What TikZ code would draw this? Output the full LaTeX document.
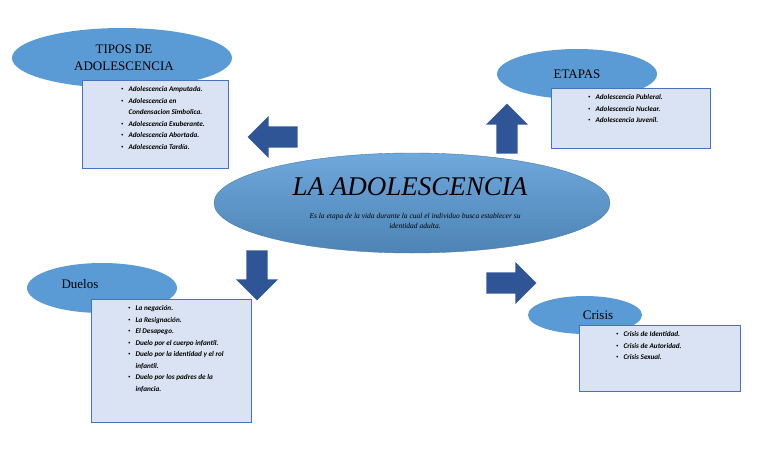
\documentclass[tikz,border=0pt]{standalone}
\usepackage{fontspec}
\setmainfont{Liberation Serif}
\newfontfamily\listfont{Carlito}
\usetikzlibrary{shapes.arrows}
\definecolor{ell}{HTML}{5B9BD5}
\definecolor{ellb}{HTML}{6FA8DC}
\definecolor{boxf}{HTML}{DAE3F3}
\definecolor{boxd}{HTML}{4472C4}
\definecolor{arr}{HTML}{2F5597}
\tikzset{
 ellnode/.style={ellipse,fill=ell,inner sep=0pt},
 listbox/.style={draw=boxd,fill=boxf,line width=0.8pt,anchor=north west,inner sep=0pt},
 bigarrow/.style={single arrow,fill=arr,draw=none,minimum height=50pt,minimum width=42pt,single arrow head extend=6pt,inner sep=6pt},
 ltxt/.style={anchor=north west,align=left,font=\listfont\bfseries\itshape\fontsize{7.2}{11.5}\selectfont},
}
\usetikzlibrary{shapes.geometric}
\begin{document}
\begin{tikzpicture}[x=1pt,y=-1pt]
\useasboundingbox[fill=white] (0,0) rectangle (768,466);
% ellipses
\node[ellnode,minimum width=220pt,minimum height=60pt] (tipos) at (122,58) {};
\node[ellnode,minimum width=160pt,minimum height=50pt] (etapas) at (577,74) {};
\node[ellnode,minimum width=150pt,minimum height=50pt] (duelos) at (102,288) {};
\node[ellnode,minimum width=114pt,minimum height=38pt] (crisis) at (585,315) {};
\node[ellipse,top color=ellb,bottom color=ell!85!black,draw=ell!80!black,minimum width=396pt,minimum height=100pt] (main) at (412,203) {};
% boxes
\node[listbox,minimum width=146pt,minimum height=88pt] (tbox) at (82,80) {};
\node[listbox,minimum width=159pt,minimum height=60pt] (ebox) at (551,88) {};
\node[listbox,minimum width=160pt,minimum height=123pt] (dbox) at (91,299) {};
\node[listbox,minimum width=161pt,minimum height=66pt] (cbox) at (579,325) {};
% titles
\node[align=center,font=\fontsize{13}{17}\selectfont] (ttl) at (124,58) {TIPOS DE\\ADOLESCENCIA};
\node[font=\fontsize{13}{15}\selectfont] (etl) at (577,74) {ETAPAS};
\node[font=\fontsize{13}{15}\selectfont] (dtl) at (80,284) {Duelos};
\node[font=\fontsize{13}{15}\selectfont] (ctl) at (598,315) {Crisis};
\node[font=\itshape\fontsize{27}{30}\selectfont] (mtl) at (410,187) {LA ADOLESCENCIA};
\node[align=center,font=\itshape\fontsize{7.5}{10}\selectfont] (msub) at (415,221) {Es la etapa de la vida durante la cual el individuo busca establecer su\\identidad adulta.};
% lists
\node[ltxt] (tl) at ([xshift=18pt,yshift=-3pt]tbox.north west) {%
\begin{minipage}{125pt}\begin{itemize}\setlength{\itemsep}{0pt}\setlength{\parskip}{0pt}\setlength{\leftmargin}{14pt}
\item Adolescencia Amputada.
\item Adolescencia en\\ Condensacion Simbolica.
\item Adolescencia Exuberante.
\item Adolescencia Abortada.
\item Adolescencia Tardía.
\end{itemize}\end{minipage}};
\node[ltxt] (el) at ([xshift=16pt,yshift=-3pt]ebox.north west) {%
\begin{minipage}{135pt}\begin{itemize}\setlength{\itemsep}{0pt}\setlength{\parskip}{0pt}
\item Adolescencia Publeral.
\item Adolescencia Nuclear.
\item Adolescencia Juvenil.
\end{itemize}\end{minipage}};
\node[ltxt] (dl) at ([xshift=16pt,yshift=-3pt]dbox.north west) {%
\begin{minipage}{135pt}\begin{itemize}\setlength{\itemsep}{0pt}\setlength{\parskip}{0pt}
\item La negación.
\item La Resignación.
\item El Desapego.
\item Duelo por el cuerpo infantil.
\item Duelo por la identidad y el rol\\ infantil.
\item Duelo por los padres de la\\ infancia.
\end{itemize}\end{minipage}};
\node[ltxt] (cl) at ([xshift=16pt,yshift=-3pt]cbox.north west) {%
\begin{minipage}{135pt}\begin{itemize}\setlength{\itemsep}{0pt}\setlength{\parskip}{0pt}
\item Crisis de Identidad.
\item Crisis de Autoridad.
\item Crisis Sexual.
\end{itemize}\end{minipage}};
% arrows
\node[bigarrow,shape border rotate=135] (a1) at (278,137) {};
\node[bigarrow,shape border rotate=45] (a2) at (507,134) {};
\node[bigarrow,shape border rotate=225] (a3) at (257,270) {};
\node[bigarrow,shape border rotate=-45] (a4) at (506,283) {};
\end{tikzpicture}
\end{document}
